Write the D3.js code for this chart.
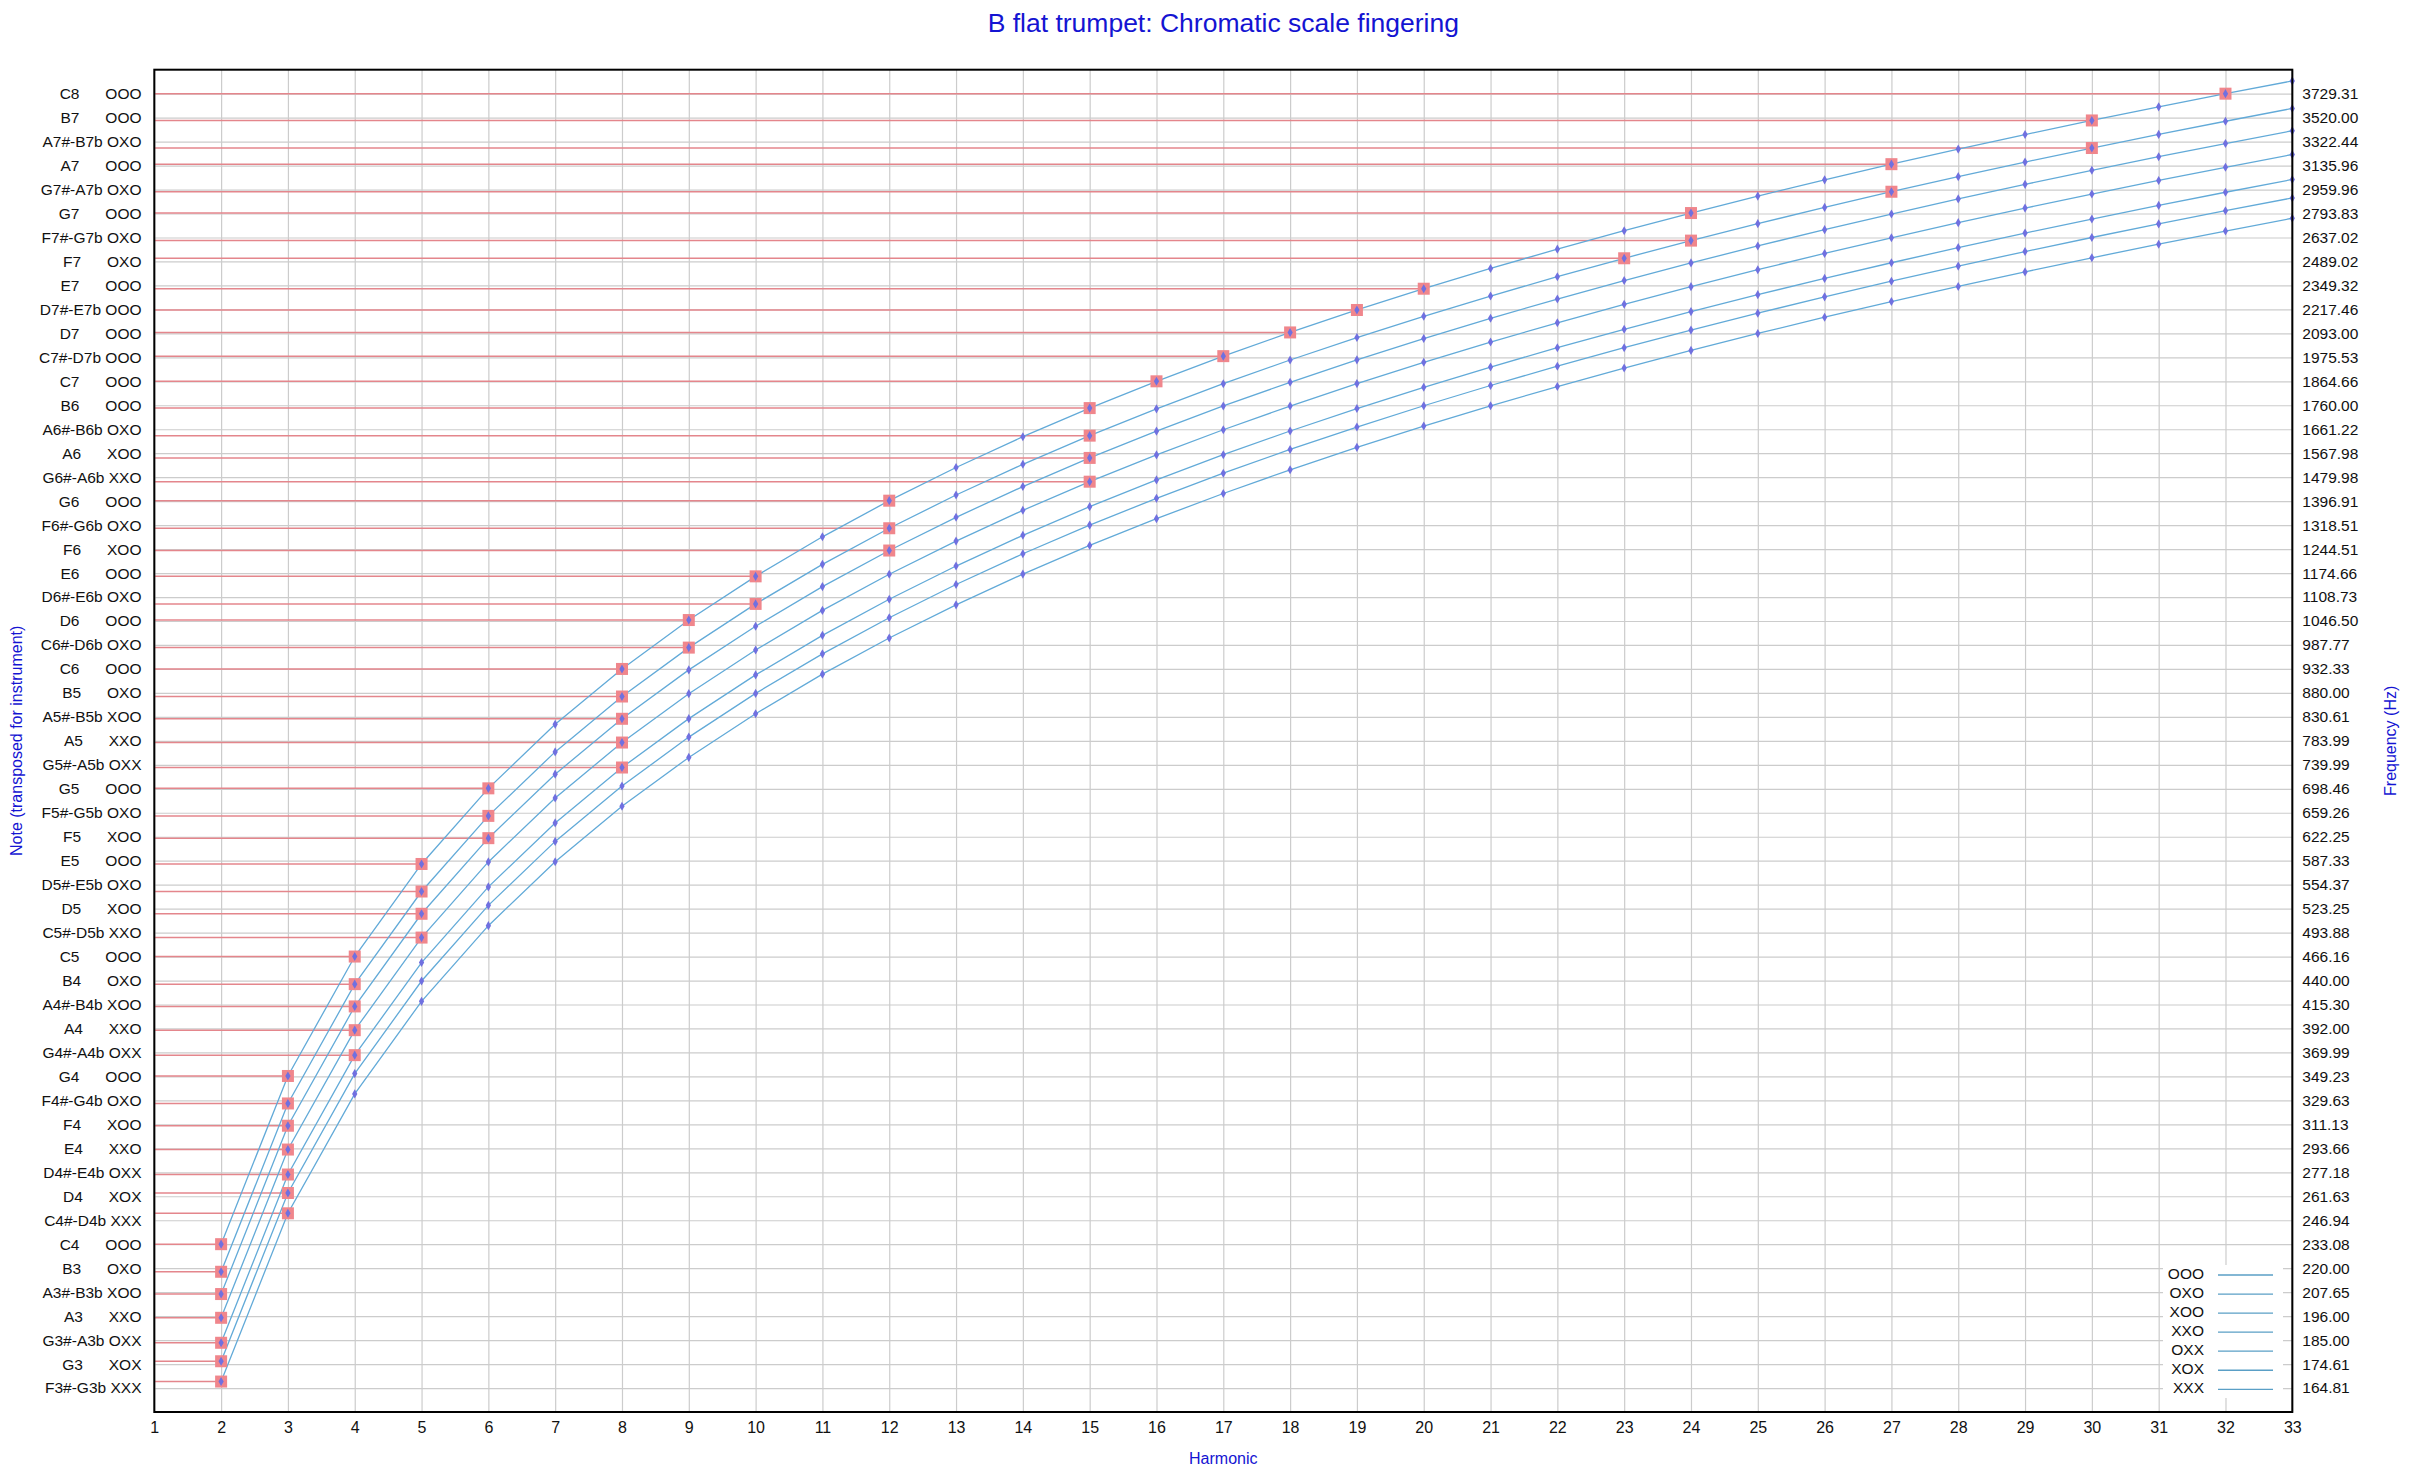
<!DOCTYPE html>
<html>
<head>
<meta charset="utf-8">
<script src="https://cdn.jsdelivr.net/npm/d3@7"></script>
<style>
  html, body { margin: 0; padding: 0; background: #fff; }
  svg { display: block; font-family: "Liberation Sans", Arial, Helvetica, sans-serif; }
</style>
</head>
<body>
<svg id="chart" width="2432" height="1473"></svg>
<script>
// ---------------- DATA ----------------
const title = "B flat trumpet: Chromatic scale fingering";
const xTitle = "Harmonic";
const yTitleLeft = "Note (transposed for instrument)";
const yTitleRight = "Frequency (Hz)";

const xTicks = [1,2,3,4,5,6,7,8,9,10,11,12,13,14,15,16,17,18,19,20,21,22,23,24,25,26,27,28,29,30,31,32,33];
const harmonics = [2,3,4,5,6,7,8,9,10,11,12,13,14,15,16,17,18,19,20,21,22,23,24,25,26,27,28,29,30,31,32,33];

// Note rows (top to bottom)
const noteNames = ["C8","B7","A7#-B7b","A7","G7#-A7b","G7","F7#-G7b","F7","E7","D7#-E7b","D7","C7#-D7b","C7",
  "B6","A6#-B6b","A6","G6#-A6b","G6","F6#-G6b","F6","E6","D6#-E6b","D6","C6#-D6b","C6",
  "B5","A5#-B5b","A5","G5#-A5b","G5","F5#-G5b","F5","E5","D5#-E5b","D5","C5#-D5b","C5",
  "B4","A4#-B4b","A4","G4#-A4b","G4","F4#-G4b","F4","E4","D4#-E4b","D4","C4#-D4b","C4",
  "B3","A3#-B3b","A3","G3#-A3b","G3","F3#-G3b"];
const noteFingering = ["OOO","OOO","OXO","OOO","OXO","OOO","OXO","OXO","OOO","OOO","OOO","OOO","OOO",
  "OOO","OXO","XOO","XXO","OOO","OXO","XOO","OOO","OXO","OOO","OXO","OOO",
  "OXO","XOO","XXO","OXX","OOO","OXO","XOO","OOO","OXO","XOO","XXO","OOO",
  "OXO","XOO","XXO","OXX","OOO","OXO","XOO","XXO","OXX","XOX","XXX","OOO",
  "OXO","XOO","XXO","OXX","XOX","XXX"];
const noteHarmonic = [32,30,30,27,27,24,24,23,20,19,18,17,16,
  15,15,15,15,12,12,12,10,10,9,9,8,
  8,8,8,8,6,6,6,5,5,5,5,4,
  4,4,4,4,3,3,3,3,3,3,3,2,
  2,2,2,2,2,2];
const freqLabels = [3729.31,3520.00,3322.44,3135.96,2959.96,2793.83,2637.02,2489.02,2349.32,2217.46,2093.00,1975.53,1864.66,
  1760.00,1661.22,1567.98,1479.98,1396.91,1318.51,1244.51,1174.66,1108.73,1046.50,987.77,932.33,
  880.00,830.61,783.99,739.99,698.46,659.26,622.25,587.33,554.37,523.25,493.88,466.16,
  440.00,415.30,392.00,369.99,349.23,329.63,311.13,293.66,277.18,261.63,246.94,233.08,
  220.00,207.65,196.00,185.00,174.61,164.81];

// Series: frequency (Hz) of harmonics 2..33 for each valve combination
const seriesNames = ["OOO","OXO","XOO","XXO","OXX","XOX","XXX"];
const OOO = [233.1,349.6,466.2,582.7,699.2,815.8,932.3,1048.9,1165.4,1281.9,1398.5,1515.0,1631.6,1748.1,1864.6,1981.2,2097.7,2214.3,2330.8,2447.3,2563.9,2680.4,2797.0,2913.5,3030.0,3146.6,3263.1,3379.7,3496.2,3612.7,3729.3,3845.8];
const OXO = [218.1,327.2,436.2,545.3,654.3,763.4,872.4,981.5,1090.5,1199.6,1308.6,1417.7,1526.7,1635.8,1744.8,1853.9,1962.9,2072.0,2181.0,2290.1,2399.1,2508.2,2617.2,2726.3,2835.3,2944.4,3053.4,3162.5,3271.5,3380.6,3489.6,3598.7];
const XOO = [206.7,310.1,413.4,516.8,620.1,723.5,826.8,930.2,1033.5,1136.9,1240.2,1343.6,1446.9,1550.3,1653.6,1757.0,1860.3,1963.7,2067.0,2170.4,2273.7,2377.1,2480.4,2583.8,2687.1,2790.5,2893.8,2997.2,3100.5,3203.9,3307.2,3410.6];
const XXO = [195.2,292.8,390.4,488.0,585.6,683.2,780.8,878.4,976.0,1073.6,1171.2,1268.8,1366.4,1464.0,1561.6,1659.2,1756.8,1854.4,1952.0,2049.6,2147.2,2244.8,2342.4,2440.0,2537.6,2635.2,2732.8,2830.4,2928.0,3025.6,3123.2,3220.8];
const OXX = [183.8,275.7,367.6,459.5,551.4,643.3,735.2,827.1,919.0,1010.9,1102.8,1194.7,1286.6,1378.5,1470.4,1562.3,1654.2,1746.1,1838.0,1929.9,2021.8,2113.7,2205.6,2297.5,2389.4,2481.3,2573.2,2665.1,2757.0,2848.9,2940.8,3032.7];
const XOX = [175.8,263.7,351.6,439.5,527.4,615.3,703.2,791.1,879.0,966.9,1054.8,1142.7,1230.6,1318.5,1406.4,1494.3,1582.2,1670.1,1758.0,1845.9,1933.8,2021.7,2109.6,2197.5,2285.4,2373.3,2461.2,2549.1,2637.0,2724.9,2812.8,2900.7];
const XXX = [167.4,251.1,334.8,418.5,502.2,585.9,669.6,753.3,837.0,920.7,1004.4,1088.1,1171.8,1255.5,1339.2,1422.9,1506.6,1590.3,1674.0,1757.7,1841.4,1925.1,2008.8,2092.5,2176.2,2259.9,2343.6,2427.3,2511.0,2594.7,2678.4,2762.1];

// ---------------- CHART ----------------
const seriesTable = { OOO, OXO, XOO, XXO, OXX, XOX, XXX };
const svg = d3.select("#chart");
const L = 154.3, R = 2292.3, T = 69.7, B = 1412;
const x = d3.scaleLinear().domain([1, 33]).range([L, R]);
const y = d3.scaleLog().domain([155.56, 3951.07]).range([B, T]);

const gridColor = "#cccccc";
const lineColor = "#62aad8";
const dotColor = "#7070e0";
const redColor = "#f0868c";
const redLine = "#e4868c";
const blueText = "#1414d2";

// title
svg.append("text").attr("x", (L + R) / 2).attr("y", 23).attr("text-anchor", "middle")
  .attr("dominant-baseline", "central").attr("font-size", 26.5).attr("fill", blueText).text(title);

// grid: vertical
const gx = svg.append("g").attr("transform", `translate(0,${B})`)
  .call(d3.axisBottom(x).tickValues(xTicks).tickSize(-(B - T)).tickFormat(""));
gx.select(".domain").remove();
gx.selectAll(".tick line").attr("stroke", gridColor).attr("stroke-width", 1.2);

// grid: horizontal
const gy = svg.append("g").attr("transform", `translate(${L},0)`)
  .call(d3.axisLeft(y).tickValues(freqLabels).tickSize(-(R - L)).tickFormat(""));
gy.select(".domain").remove();
gy.selectAll(".tick line").attr("stroke", gridColor).attr("stroke-width", 1.2);

// x tick labels
const xl = svg.append("g").attr("transform", `translate(0,${B})`)
  .call(d3.axisBottom(x).tickValues(xTicks).tickSize(0).tickPadding(10).tickFormat(d3.format("d")));
xl.select(".domain").remove();
xl.selectAll("text").attr("font-size", 16).attr("fill", "#111").attr("font-family", null);

// left labels (note + fingering)
const labelOf = new Map(freqLabels.map((f, i) => [f, noteNames[i].padEnd(7, " ") + " " + noteFingering[i]]));
const yl = svg.append("g").attr("transform", `translate(141.5,0)`)
  .call(d3.axisLeft(y).tickValues(freqLabels).tickSize(0).tickPadding(0).tickFormat(d => labelOf.get(d)));
yl.select(".domain").remove();
yl.selectAll("text").attr("font-size", 15.5).attr("fill", "#111").attr("font-family", null)
  .style("white-space", "pre");

// right labels (frequencies)
const yr = svg.append("g").attr("transform", `translate(${R},0)`)
  .call(d3.axisRight(y).tickValues(freqLabels).tickSize(0).tickPadding(10).tickFormat(d3.format(".2f")));
yr.select(".domain").remove();
yr.selectAll("text").attr("font-size", 15.5).attr("fill", "#111").attr("font-family", null);

// red horizontal lines to the chosen harmonic
const notePts = noteNames.map((n, i) => {
  const s = seriesTable[noteFingering[i]];
  const h = noteHarmonic[i];
  return { h, f: s[harmonics.indexOf(h)] };
});
svg.append("g").selectAll("line").data(notePts).join("line")
  .attr("x1", L).attr("x2", d => x(d.h))
  .attr("y1", d => y(d.f)).attr("y2", d => y(d.f))
  .attr("stroke", redLine).attr("stroke-width", 1.5);

// series lines
const line = d3.line().x((d, i) => x(harmonics[i])).y(d => y(d));
svg.append("g").selectAll("path").data(seriesNames).join("path")
  .attr("d", k => line(seriesTable[k]))
  .attr("fill", "none").attr("stroke", lineColor).attr("stroke-width", 1.3);

// red squares
svg.append("g").selectAll("rect").data(notePts).join("rect")
  .attr("x", d => x(d.h) - 6).attr("y", d => y(d.f) - 6)
  .attr("width", 12).attr("height", 12).attr("fill", redColor);

// blue dots
const dotSym = d3.symbol().type(d3.symbolDiamond).size(24);
seriesNames.forEach(k => {
  svg.append("g").selectAll("path").data(seriesTable[k]).join("path")
    .attr("d", dotSym)
    .attr("transform", (d, i) => `translate(${x(harmonics[i])},${y(d)})`)
    .attr("fill", dotColor);
});

// frame
svg.append("rect").attr("x", L).attr("y", T).attr("width", R - L).attr("height", B - T)
  .attr("fill", "none").attr("stroke", "#000").attr("stroke-width", 2);

// legend
const lg = svg.append("g");
lg.append("rect").attr("x", 2163).attr("y", 1265).attr("width", 120).attr("height", 133).attr("fill", "#fff");
seriesNames.forEach((k, i) => {
  const yy = 1275 + i * 19.05;
  lg.append("text").attr("x", 2204).attr("y", yy - 1.5).attr("text-anchor", "end")
    .attr("dominant-baseline", "central").attr("font-size", 15.5).attr("fill", "#111").text(k);
  lg.append("line").attr("x1", 2218).attr("x2", 2273).attr("y1", yy).attr("y2", yy)
    .attr("stroke", "#5a9fc6").attr("stroke-width", 1.3);
});

// axis titles
svg.append("text").attr("x", (L + R) / 2).attr("y", 1458).attr("text-anchor", "middle")
  .attr("dominant-baseline", "central").attr("font-size", 16).attr("fill", blueText).text(xTitle);
svg.append("text").attr("transform", `translate(16,${(T + B) / 2}) rotate(-90)`).attr("text-anchor", "middle")
  .attr("dominant-baseline", "central").attr("font-size", 16).attr("fill", blueText).text(yTitleLeft);
svg.append("text").attr("transform", `translate(2390,${(T + B) / 2}) rotate(-90)`).attr("text-anchor", "middle")
  .attr("dominant-baseline", "central").attr("font-size", 16).attr("fill", blueText).text(yTitleRight);
</script>
</body>
</html>
